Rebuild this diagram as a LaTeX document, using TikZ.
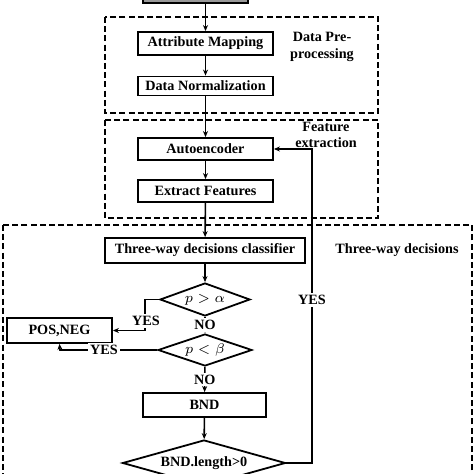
\documentclass[tikz,border=0pt]{standalone}
\usepackage{fontspec}
\setmainfont{Liberation Serif}
\usetikzlibrary{shapes.geometric,arrows.meta}
\begin{document}
\begin{tikzpicture}[x=0.5pt,y=-0.5pt,
  font=\fontsize{7.1}{8.2}\selectfont\bfseries,
  every path/.style={line width=0.8pt},
  stepbox/.style={draw,line width=0.9pt,rectangle,inner sep=0pt,align=center},
  decide/.style={draw,line width=0.9pt,diamond,inner sep=0pt,align=center},
  group/.style={draw,line width=0.9pt,dash pattern=on 3pt off 1.6pt},
  arr/.style={-{Stealth[length=3pt,width=2.5pt]}},
  lbl/.style={fill=white,inner sep=1pt}]
\useasboundingbox (0,0) rectangle (474,474);
% groups
\draw[group] (105,17) rectangle (378,113);
\draw[group] (105,120) rectangle (378,218);
\draw[group] (3,225) rectangle (472,495);
\node[align=center] (lab1) at (322,47) {Data Pre-\\processing};
\node[align=center] (lab2) at (326,135) {Feature\\extraction};
\node (lab3) at (397,250) {Three-way decisions};
% nodes
\node[stepbox,fill=gray!80,minimum width=52.5pt,minimum height=10pt] (in) at (195.5,-7) {};
\node[stepbox,minimum width=67.5pt,minimum height=11.5pt] (am) at (205.5,43.5) {Attribute Mapping};
\node[stepbox,minimum width=67.5pt,minimum height=9.5pt] (dn) at (205.5,86) {Data Normalization};
\node[stepbox,minimum width=67.5pt,minimum height=11pt] (ae) at (205.5,149) {Autoencoder};
\node[stepbox,minimum width=67.5pt,minimum height=11pt] (ef) at (205.5,191) {Extract Features};
\node[stepbox,minimum width=100pt,minimum height=12.5pt] (twc) at (205,250.5) {Three-way decisions classifier};
\node[decide,shape aspect=2.7,minimum width=45pt,minimum height=16.5pt] (d1) at (205,299.5) {$p>\alpha$};
\node[stepbox,minimum width=52.5pt,minimum height=12.5pt] (pos) at (59.5,330.5) {POS,NEG};
\node[decide,shape aspect=2.9,minimum width=47pt,minimum height=16pt] (d2) at (205,350) {$p<\beta$};
\node[stepbox,minimum width=61.5pt,minimum height=12pt] (bnd) at (204.5,405) {BND};
\node[decide,shape aspect=3.5,minimum width=81.5pt,minimum height=23pt] (d3) at (204,463) {BND.length>0};
\coordinate (c1) at (145,330.5);
\coordinate (c2) at (60,350);
\coordinate (c3) at (312,463);
% connectors
\draw[arr] (in.south -| am.north) -- (am.north);
\draw[arr] (am) -- (dn);
\draw[arr] (dn) -- (ae);
\draw[arr] (ae) -- (ef);
\draw[arr] (ef) -- (twc);
\draw[arr] (twc) -- (d1);
\draw[arr] (d1) -- node[lbl] {NO} (d2);
\draw[arr] (d2) -- node[lbl] {NO} (bnd);
\draw[arr] (bnd) -- (d3);
\draw[arr] (d1.west) -| (c1) -- (pos.east);
\node[lbl] (y1) at (146,321) {YES};
\draw[arr] (d2.west) -- (c2) -- (pos.south);
\node[lbl] (y2) at (104,350) {YES};
\draw[arr] (d3.east) -- (c3) |- (ae.east);
\node[lbl] (y3) at (312,300) {YES};
\end{tikzpicture}
\end{document}
